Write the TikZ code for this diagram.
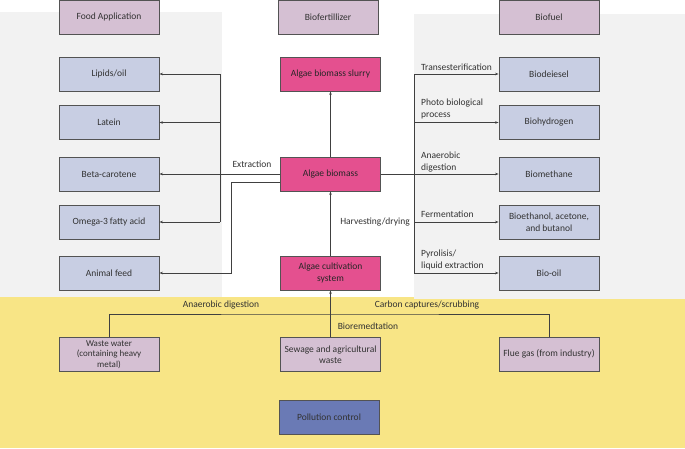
\documentclass[tikz,border=0pt]{standalone}
\usepackage{fontspec}
\setmainfont{Carlito}
\usetikzlibrary{arrows.meta}
\definecolor{yellowbg}{RGB}{248,229,134}
\definecolor{graybg}{RGB}{242,242,242}
\definecolor{pinkbox}{RGB}{228,80,143}
\definecolor{lilacbox}{RGB}{213,192,211}
\definecolor{bluebox}{RGB}{200,206,227}
\definecolor{navybox}{RGB}{106,122,181}
\definecolor{linegray}{RGB}{64,64,64}
\definecolor{textgray}{RGB}{50,50,50}
\tikzset{
  box/.style={draw=linegray!90, line width=0.9pt, minimum width=100pt, minimum height=34pt,
    align=center, inner sep=1pt, text=textgray, font=\fontsize{9.5}{11.5}\selectfont},
  headbox/.style={box, fill=lilacbox},
  prodbox/.style={box, fill=bluebox},
  algaebox/.style={box, fill=pinkbox, text=black!85},
  controlbox/.style={box, fill=navybox},
  conn/.style={draw=linegray, line width=0.6pt},
  arr/.style={conn, -{Stealth[length=3.5pt,width=2.6pt]}},
  lbl/.style={inner sep=0pt, align=left, text=textgray, font=\fontsize{9.5}{11.5}\selectfont}
}
\begin{document}
\begin{tikzpicture}[x=1pt,y=-1pt]
\useasboundingbox (0,0) rectangle (685,448);
% backgrounds
\fill[yellowbg] (0,297) rectangle (685,448);
\fill[graybg] (0,12) rectangle (222,297);
\fill[graybg] (414,14) rectangle (685,299);

% headings
\node[headbox] (food) at (109,17) {Food Application};
\node[headbox] (fert) at (328,17) {Biofertillizer};
\node[headbox] (fuel) at (549,17) {Biofuel};

% food products
\node[prodbox] (lipids) at (109,74) {Lipids/oil};
\node[prodbox] (latein) at (109,122.5) {Latein};
\node[prodbox] (beta) at (109,174) {Beta-carotene};
\node[prodbox] (omega) at (109,222) {Omega-3 fatty acid};
\node[prodbox] (feed) at (109,273) {Animal feed};

% algae chain
\node[algaebox] (slurry) at (330.5,74) {Algae biomass slurry};
\node[algaebox] (biomass) at (330.5,174) {Algae biomass};
\node[algaebox] (cult) at (330.5,273) {Algae cultivation\\system};

% fuels
\node[prodbox] (diesel) at (549,74) {Biodeiesel};
\node[prodbox] (hydro) at (549,122.5) {Biohydrogen};
\node[prodbox] (methane) at (549,174) {Biomethane};
\node[prodbox] (ethanol) at (549,222) {Bioethanol, acetone,\\and butanol};
\node[prodbox] (oil) at (549,273) {Bio-oil};

% sources
\node[headbox, font=\fontsize{9}{10.5}\selectfont] (waste) at (109,354.5) {Waste water\\(containing heavy\\metal)};
\node[headbox] (sewage) at (330.5,354.5) {Sewage and agricultural\\waste};
\node[headbox] (flue) at (549,354) {Flue gas (from industry)};
\node[controlbox] (pollution) at (329,417) {Pollution control};

\coordinate (busL) at (220,174);
\coordinate (busR) at (414,174);
\coordinate (feedturn) at (231,182);
\coordinate (join) at (330.5,314);

% centre arrows
\draw[arr] (biomass) -- (slurry);
\draw[arr] (cult) -- (biomass);
\draw[arr] (sewage) -- (cult);

% extraction
\draw[conn] (lipids.east -| busL) -- (omega.east -| busL);
\draw[arr] (lipids.east -| busL) -- (lipids.east);
\draw[arr] (latein.east -| busL) -- (latein.east);
\draw[arr] (omega.east -| busL) -- (omega.east);
\draw[arr] (biomass.west) -- (beta.east);
\draw[arr] ([yshift=-8pt]biomass.west) -- (feedturn) |- (feed.east);
\node[lbl] (extract) at (252,164) {Extraction};

% biofuel routes
\draw[conn] (diesel.west -| busR) -- (oil.west -| busR);
\draw[arr] (diesel.west -| busR) -- (diesel.west);
\draw[arr] (hydro.west -| busR) -- (hydro.west);
\draw[arr] (biomass.east) -- (methane.west);
\draw[arr] (ethanol.west -| busR) -- (ethanol.west);
\draw[arr] (oil.west -| busR) -- (oil.west);
\node[lbl, anchor=west] (trans) at (421,67) {Transesterification};
\node[lbl, anchor=west] (photo) at (421,109) {Photo biological\\process};
\node[lbl, anchor=west] (anaer) at (421,162) {Anaerobic\\digestion};
\node[lbl, anchor=west] (ferm) at (421,214) {Fermentation};
\node[lbl, anchor=west] (pyro) at (421,260) {Pyrolisis/\\liquid extraction};
\node[lbl] (harvest) at (375,222) {Harvesting/drying};

% sources to cultivation
\draw[conn] (waste.north) |- (join) -| (flue.north);
\node[lbl] (anaerob) at (221,305) {Anaerobic digestion};
\node[lbl] (carbon) at (427,305) {Carbon captures/scrubbing};
\node[lbl] (biorem) at (368,326) {Bioremedtation};
\end{tikzpicture}
\end{document}
